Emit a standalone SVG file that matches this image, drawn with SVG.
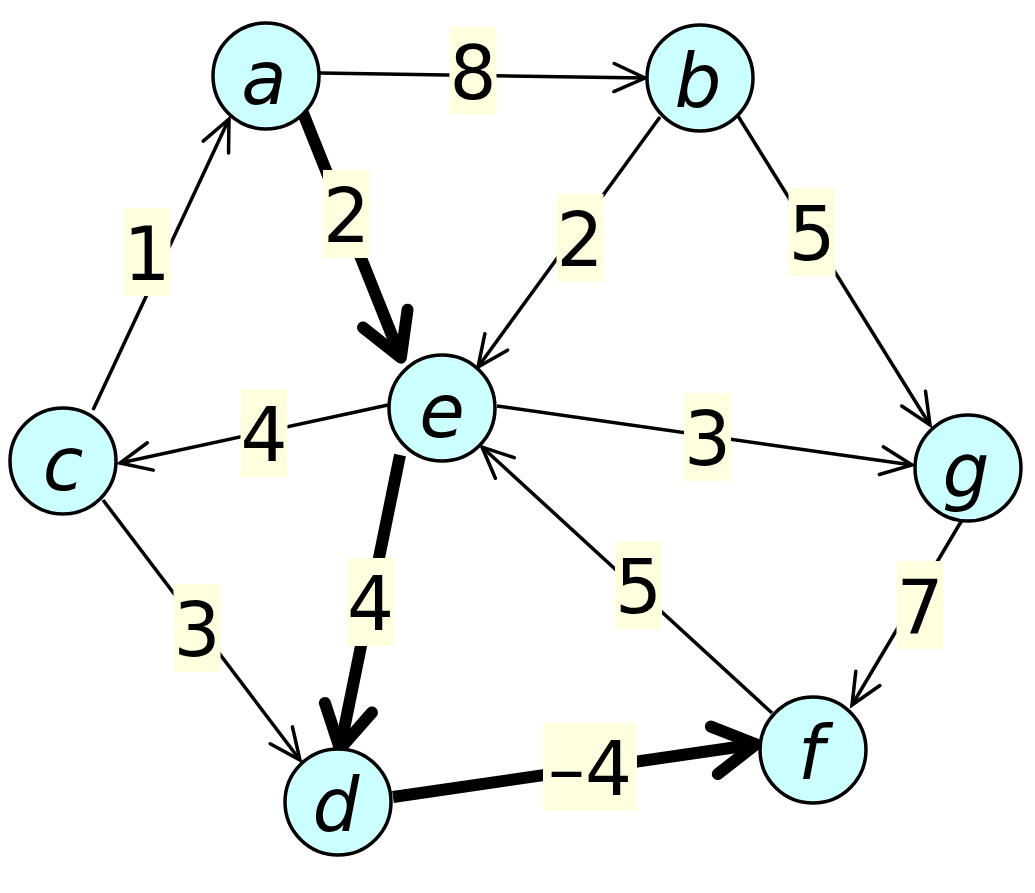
<svg xmlns="http://www.w3.org/2000/svg" width="1035" height="893" viewBox="0 0 1035 893">
<style>
.node{fill:#ccffff;stroke:#000;stroke-width:3.5}
.nl{font-family:"DejaVu Sans",Verdana,sans-serif;font-style:italic;font-size:74px;text-anchor:middle;fill:#000}
.e{stroke:#000;stroke-width:3.5;fill:none;marker-end:url(#ah)}
.t{stroke:#000;stroke-width:12;fill:none;marker-end:url(#ahT)}
.lb{fill:#ffffe0}
.lt{font-family:"DejaVu Sans",Verdana,sans-serif;font-size:74px;text-anchor:middle;fill:#000}
</style>
<defs>
<marker id="ah" markerUnits="userSpaceOnUse" viewBox="-50 -30 60 60" markerWidth="60" markerHeight="60" refX="0" refY="0" orient="auto" overflow="visible">
<path d="M-31,-14 L0,0 L-31,14" fill="none" stroke="#000" stroke-width="3.5" stroke-linecap="round"/>
</marker>
<marker id="ahT" markerUnits="userSpaceOnUse" viewBox="-60 -40 80 80" markerWidth="80" markerHeight="80" refX="-5" refY="0" orient="auto" overflow="visible">
<path d="M-42,-24 L0,0 L-42,24" fill="none" stroke="#000" stroke-width="12" stroke-linecap="round" stroke-linejoin="round"/>
</marker>
</defs>
<g id="connectors">
<line class="e" x1="320" y1="73" x2="645" y2="78"/>
<line class="e" x1="93" y1="410" x2="229" y2="119"/>
<line class="t" x1="303" y1="113" x2="399" y2="353"/>
<line class="e" x1="660" y1="117" x2="478" y2="367"/>
<line class="e" x1="738" y1="116" x2="930" y2="425"/>
<line class="e" x1="388" y1="405" x2="120" y2="463"/>
<line class="e" x1="497" y1="406" x2="912" y2="465"/>
<line class="e" x1="103" y1="500" x2="300" y2="760"/>
<line class="t" x1="400" y1="455" x2="341" y2="744"/>
<line class="e" x1="772" y1="713" x2="482" y2="447"/>
<line class="e" x1="962" y1="520" x2="852" y2="705"/>
<line class="t" x1="393" y1="797" x2="751" y2="745"/>
<g id="labels">
<rect class="lb" x="449.5" y="27" width="47" height="88"/><text class="lt" x="473" y="99">8</text>
<rect class="lb" x="123.5" y="208" width="47" height="88"/><text class="lt" x="147" y="280">1</text>
<rect class="lb" x="323" y="170" width="47" height="88"/><text class="lt" x="346.5" y="242">2</text>
<rect class="lb" x="556.5" y="194" width="47" height="88"/><text class="lt" x="580" y="266">2</text>
<rect class="lb" x="788.5" y="188" width="47" height="88"/><text class="lt" x="812" y="260">5</text>
<rect class="lb" x="240.5" y="389" width="47" height="88"/><text class="lt" x="264" y="461">4</text>
<rect class="lb" x="684" y="393" width="47" height="88"/><text class="lt" x="707.5" y="465">3</text>
<rect class="lb" x="173.5" y="584" width="47" height="88"/><text class="lt" x="197" y="656">3</text>
<rect class="lb" x="347" y="558" width="47" height="88"/><text class="lt" x="370.5" y="630">4</text>
<rect class="lb" x="615" y="541" width="47" height="88"/><text class="lt" x="638.5" y="613">5</text>
<rect class="lb" x="896.5" y="561" width="47" height="88"/><text class="lt" x="920" y="633">7</text>
<rect class="lb" x="543" y="723" width="94" height="88"/><text class="lt" x="590" y="795">–4</text>
</g>
</g>
<g id="node-a"><circle class="node" cx="266" cy="76" r="53"/><text class="nl" x="264" y="104">a</text></g>
<g id="node-b"><circle class="node" cx="700" cy="78" r="53"/><text class="nl" x="698" y="107">b</text></g>
<g id="node-c"><circle class="node" cx="63" cy="461" r="53"/><text class="nl" x="63" y="490">c</text></g>
<g id="node-e"><circle class="node" cx="442" cy="408" r="53"/><text class="nl" x="442" y="437">e</text></g>
<g id="node-g"><circle class="node" cx="968" cy="468" r="53"/><text class="nl" x="966" y="497">g</text></g>
<g id="node-d"><circle class="node" cx="338" cy="802" r="53"/><text class="nl" x="336" y="831">d</text></g>
<g id="node-f"><circle class="node" cx="813" cy="750" r="53"/><text class="nl" x="811" y="779">f</text></g>
</svg>
